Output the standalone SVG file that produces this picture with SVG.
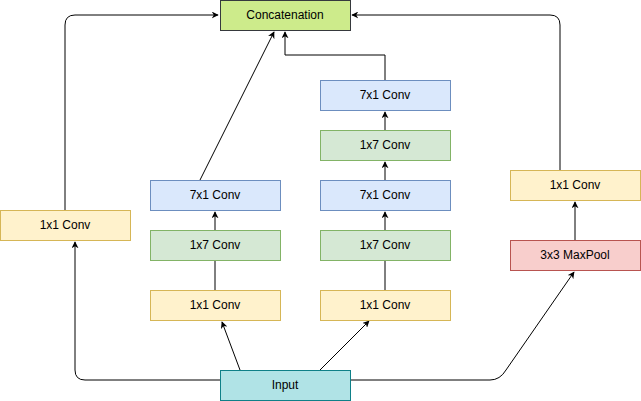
<svg xmlns="http://www.w3.org/2000/svg" width="641" height="401" viewBox="0 0 641 401">
<style>
text{font-family:"Liberation Sans",Arial,sans-serif;font-size:12px;fill:#000;text-anchor:middle;dominant-baseline:central}
.y{fill:#fff2cc;stroke:#d6b656}.b{fill:#dae8fc;stroke:#6c8ebf}.g{fill:#d5e8d4;stroke:#82b366}
.r{fill:#f8cecc;stroke:#b85450}.c{fill:#cdeb8b;stroke:#36393d}.i{fill:#b0e3e6;stroke:#0e8088}
#edges path{fill:none;stroke:#000;stroke-width:1}
</style>
<defs><marker id="a" viewBox="0 0 10 10" refX="9" refY="5" markerWidth="7" markerHeight="7" orient="auto" markerUnits="userSpaceOnUse"><path d="M0,0 L10,5 L0,10 L3,5 Z" fill="#000"/></marker></defs>
<g id="edges">
<path d="M220,380 H85 Q75,380 75,370 V242" marker-end="url(#a)"/>
<path d="M65,210 V25 Q65,15 75,15 H218" marker-end="url(#a)"/>
<path d="M240,370 L222,322" marker-end="url(#a)"/>
<path d="M320,370 L369,321" marker-end="url(#a)"/>
<path d="M350,380 H490 Q500,380 506,370 L574,272" marker-end="url(#a)"/>
<path d="M575,240 V202" marker-end="url(#a)"/>
<path d="M560,170 V25 Q560,15 550,15 H352" marker-end="url(#a)"/>
<path d="M200,180 L274,32" marker-end="url(#a)"/>
<path d="M385,80 V55 H285 V32" marker-end="url(#a)"/>
<path d="M215,290 V260"/>
<path d="M215,230 V212" marker-end="url(#a)"/>
<path d="M385,290 V260"/>
<path d="M385,230 V212" marker-end="url(#a)"/>
<path d="M385,180 V162" marker-end="url(#a)"/>
<path d="M385,130 V112" marker-end="url(#a)"/>
</g>
<g id="concat"><rect class="c" x="220.5" y="0.5" width="130" height="30"/><text x="285" y="15">Concatenation</text></g>
<g id="left"><rect class="y" x="0.5" y="210.5" width="130" height="30"/><text x="65" y="225">1x1 Conv</text></g>
<g id="c2a"><rect class="b" x="150.5" y="180.5" width="130" height="30"/><text x="215" y="195">7x1 Conv</text></g>
<g id="c2b"><rect class="g" x="150.5" y="230.5" width="130" height="30"/><text x="215" y="245">1x7 Conv</text></g>
<g id="c2c"><rect class="y" x="150.5" y="290.5" width="130" height="30"/><text x="215" y="305">1x1 Conv</text></g>
<g id="c3a"><rect class="b" x="320.5" y="80.5" width="130" height="30"/><text x="385" y="95">7x1 Conv</text></g>
<g id="c3b"><rect class="g" x="320.5" y="130.5" width="130" height="30"/><text x="385" y="145">1x7 Conv</text></g>
<g id="c3c"><rect class="b" x="320.5" y="180.5" width="130" height="30"/><text x="385" y="195">7x1 Conv</text></g>
<g id="c3d"><rect class="g" x="320.5" y="230.5" width="130" height="30"/><text x="385" y="245">1x7 Conv</text></g>
<g id="c3e"><rect class="y" x="320.5" y="290.5" width="130" height="30"/><text x="385" y="305">1x1 Conv</text></g>
<g id="r1"><rect class="y" x="510.5" y="170.5" width="130" height="30"/><text x="575" y="185">1x1 Conv</text></g>
<g id="pool"><rect class="r" x="510.5" y="240.5" width="130" height="30"/><text x="575" y="255">3x3 MaxPool</text></g>
<g id="input"><rect class="i" x="220.5" y="370.5" width="130" height="30"/><text x="285" y="385">Input</text></g>
</svg>
